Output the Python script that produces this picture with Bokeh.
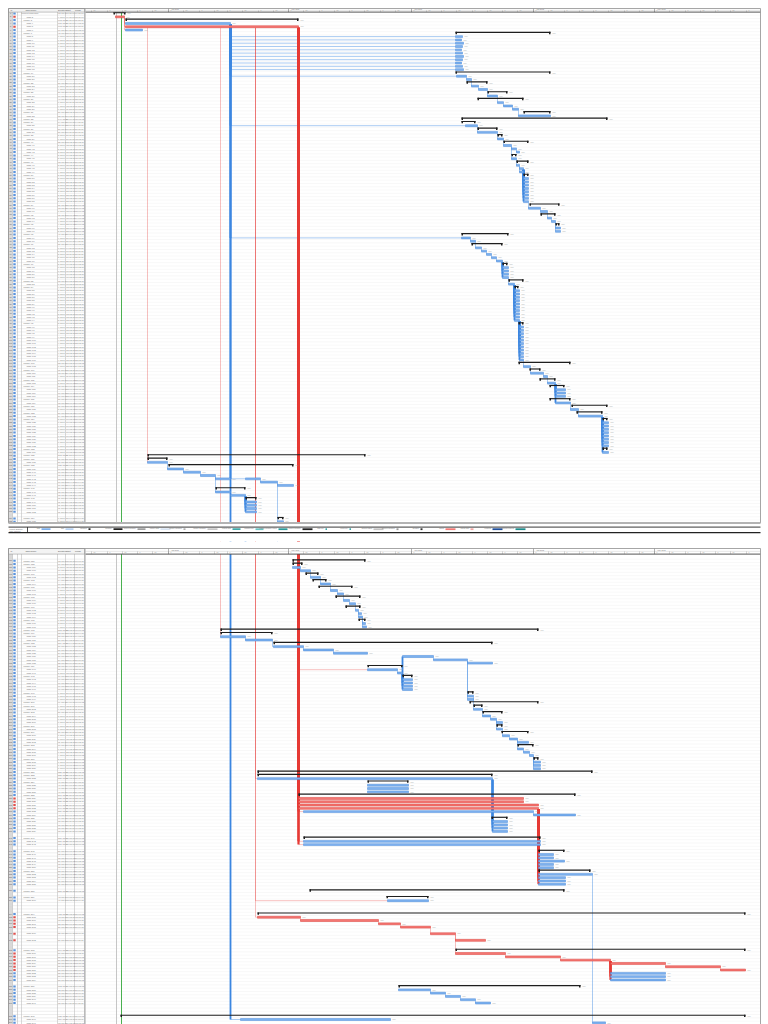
import datetime as dt
from collections import Counter
from bokeh.plotting import figure
from bokeh.layouts import column
from bokeh.models import Range1d, ColumnDataSource
from bokeh.embed import file_html
from bokeh.resources import INLINE
from bokeh.core.properties import value

# ---------------- data (days from project start, rows = task ids) ----------------
project_start = dt.date(2010, 10, 10)
project_start_line = 31
status_date_line = 36

p1_row = [0, 1, 2, 3, 4, 5, 6, 7, 8, 9,
          10, 11, 12, 13, 14, 15, 16, 17, 18, 19,
          20, 21, 22, 23, 24, 25, 26, 27, 28, 29,
          30, 31, 32, 33, 34, 35, 36, 37, 38, 39,
          40, 41, 42, 43, 44, 45, 46, 47, 48, 49,
          50, 51, 52, 53, 54, 55, 56, 57, 58, 59,
          60, 61, 62, 63, 64, 65, 66, 67, 68, 69,
          70, 71, 72, 73, 74, 75, 76, 77, 78, 79,
          80, 81, 82, 83, 84, 85, 86, 87, 88, 89,
          90, 91, 92, 93, 94, 95, 96, 97, 98, 99,
          100, 101, 102, 103, 104, 105, 106, 107, 108, 109,
          110, 111, 112, 113, 114, 115, 116, 117, 118, 119,
          120, 121, 122, 123, 124, 125, 126, 127, 128, 129,
          130, 131, 132, 133, 134, 135, 136, 137, 138, 139,
          140, 141, 141, 142, 143, 144, 145, 146, 147, 148,
          149, 150, 151, 153, 154]
p1_start = [28, 30, 40, 40, 40, 40, 370, 370, 370, 370,
            370, 370, 370, 370, 370, 370, 370, 370, 370, 371,
            381, 381, 386, 393, 402, 402, 392, 412, 418, 427,
            438, 433, 376, 376, 380, 392, 392, 412, 412, 418,
            418, 426, 431, 426, 426, 431, 431, 434, 434, 438,
            438, 438, 438, 438, 438, 438, 438, 438, 444, 443,
            455, 455, 462, 466, 470, 470, 470, 376, 376, 385,
            386, 390, 396, 401, 406, 411, 417, 417, 417, 417,
            417, 423, 423, 429, 429, 429, 429, 429, 429, 429,
            429, 429, 429, 429, 433, 434, 434, 434, 434, 434,
            434, 434, 434, 434, 434, 434, 433, 438, 444, 445,
            458, 454, 462, 464, 470, 470, 470, 464, 470, 486,
            485, 491, 493, 517, 517, 517, 517, 517, 517, 517,
            517, 517, 517, 517, 62, 62, 62, 83, 82, 98,
            115, 130, 160, 175, 192, 130, 130, 145, 160, 160,
            160, 160, 160, 192, 192]
p1_finish = [40, 39, 213, 145, 213, 57, 465, 377, 376, 378,
             377, 376, 377, 378, 377, 376, 377, 378, 465, 381,
             386, 402, 393, 402, 422, 412, 438, 418, 427, 433,
             465, 465, 522, 390, 392, 412, 412, 417, 418, 443,
             426, 431, 434, 431, 431, 443, 434, 438, 438, 443,
             443, 443, 443, 443, 443, 443, 443, 443, 474, 455,
             462, 470, 466, 470, 474, 475, 475, 423, 385, 390,
             417, 396, 401, 406, 411, 417, 422, 423, 423, 423,
             423, 438, 429, 433, 434, 434, 434, 434, 434, 434,
             434, 434, 434, 434, 438, 438, 438, 438, 438, 438,
             438, 438, 438, 438, 438, 438, 485, 445, 455, 458,
             462, 470, 470, 479, 480, 480, 480, 485, 485, 522,
             493, 517, 517, 522, 523, 523, 523, 523, 523, 523,
             523, 523, 522, 523, 280, 82, 82, 208, 98, 115,
             130, 145, 175, 192, 208, 160, 145, 160, 171, 171,
             171, 171, 171, 198, 198]
p1_kind = ["S", "C", "S", "T", "C", "T", "S", "T", "T", "T",
           "T", "T", "T", "T", "T", "T", "T", "T", "S", "T",
           "T", "S", "T", "T", "S", "T", "S", "T", "T", "T",
           "S", "T", "S", "S", "T", "S", "T", "S", "T", "S",
           "T", "T", "T", "S", "T", "S", "T", "T", "T", "S",
           "T", "T", "T", "T", "T", "T", "T", "T", "S", "T",
           "T", "S", "T", "T", "S", "T", "T", "S", "T", "T",
           "S", "T", "T", "T", "T", "T", "S", "T", "T", "T",
           "T", "S", "T", "S", "T", "T", "T", "T", "T", "T",
           "T", "T", "T", "T", "S", "T", "T", "T", "T", "T",
           "T", "T", "T", "T", "T", "T", "S", "T", "S", "T",
           "T", "S", "T", "S", "T", "T", "T", "S", "T", "S",
           "T", "S", "T", "S", "T", "T", "T", "T", "T", "T",
           "T", "T", "S", "T", "S", "S", "T", "S", "T", "T",
           "T", "T", "T", "T", "T", "S", "T", "T", "S", "T",
           "T", "T", "T", "S", "T"]
p1_pred = [-1, -1, -1, 1, 1, 1, -1, 3, 3, 3,
           3, 3, 3, 3, 3, 3, 3, 3, -1, 3,
           19, -1, 20, 22, -1, 23, -1, 25, 27, 28,
           -1, 29, -1, -1, 3, -1, 34, -1, 36, -1,
           38, 40, 41, -1, 40, -1, 44, 46, 46, -1,
           47, 47, 47, 47, 47, 47, 47, 47, -1, 57,
           59, -1, 60, 62, -1, 63, 63, -1, 3, 68,
           -1, 69, 71, 72, 73, 74, -1, 75, 75, 75,
           75, -1, 80, -1, 82, 82, 82, 82, 82, 82,
           82, 82, 82, 82, -1, 93, 93, 93, 93, 93,
           93, 93, 93, 93, 93, 93, -1, 105, -1, 107,
           109, -1, 110, -1, 112, 112, 112, -1, 112, -1,
           118, -1, 120, -1, 122, 122, 122, 122, 122, 122,
           122, 122, -1, 122, -1, -1, 4, -1, 136, 138,
           139, 140, 3, 141, 142, -1, 140, 145, -1, 146,
           146, 146, 146, -1, 142]

p2_row = [156, 157, 158, 159, 160, 161, 162, 163, 164, 165,
          166, 167, 168, 169, 170, 171, 172, 173, 174, 175,
          176, 177, 178, 179, 180, 181, 182, 183, 184, 185,
          186, 187, 188, 189, 190, 191, 192, 193, 194, 195,
          196, 197, 198, 199, 200, 201, 202, 203, 204, 205,
          206, 207, 208, 209, 210, 211, 212, 213, 214, 215,
          216, 217, 218, 219, 220, 221, 222, 223, 224, 225,
          226, 227, 228, 229, 230, 231, 232, 233, 234, 235,
          236, 237, 238, 240, 241, 242, 244, 245, 246, 247,
          248, 249, 250, 251, 252, 253, 254, 256, 258, 259,
          263, 264, 265, 266, 267, 269, 271, 274, 275, 276,
          277, 278, 279, 280, 281, 282, 283, 285, 286, 287,
          288, 289, 290, 294, 295, 296]
p2_start = [207, 207, 207, 215, 220, 225, 227, 235, 233, 245,
            252, 250, 258, 264, 260, 270, 273, 273, 273, 277,
            277, 135, 135, 135, 160, 188, 188, 218, 248, 317,
            348, 382, 282, 282, 312, 317, 317, 317, 317, 317,
            382, 382, 382, 384, 388, 388, 397, 397, 405, 411,
            411, 411, 416, 417, 424, 432, 432, 432, 438, 444,
            448, 448, 448, 448, 172, 172, 172, 282, 282, 282,
            282, 213, 213, 213, 213, 213, 218, 448, 406, 407,
            407, 407, 407, 218, 218, 218, 453, 453, 453, 453,
            453, 453, 453, 453, 453, 453, 453, 224, 301, 302,
            172, 172, 215, 293, 315, 345, 370, 370, 370, 420,
            475, 525, 580, 635, 525, 525, 525, 313, 313, 345,
            360, 375, 390, 35, 155, 507]
p2_finish = [280, 217, 215, 225, 233, 235, 241, 245, 267, 252,
             258, 275, 264, 270, 275, 273, 276, 277, 280, 280,
             281, 453, 187, 160, 187, 407, 218, 248, 282, 348,
             382, 407, 317, 312, 317, 327, 327, 327, 327, 327,
             388, 388, 388, 453, 397, 397, 417, 405, 411, 417,
             417, 417, 443, 424, 432, 443, 448, 438, 444, 448,
             453, 455, 455, 455, 507, 407, 407, 323, 323, 323,
             323, 490, 438, 438, 453, 453, 448, 490, 422, 422,
             422, 422, 422, 455, 455, 455, 479, 468, 468, 479,
             468, 468, 505, 507, 480, 480, 480, 479, 343, 343,
             660, 215, 293, 315, 345, 370, 400, 660, 420, 475,
             525, 580, 635, 660, 580, 580, 580, 495, 345, 360,
             375, 390, 405, 660, 305, 520]
p2_kind = ["S", "S", "T", "T", "S", "T", "S", "T", "S", "T",
           "T", "S", "T", "T", "S", "T", "T", "T", "S", "T",
           "T", "S", "S", "T", "T", "S", "T", "T", "T", "T",
           "T", "T", "S", "T", "T", "S", "T", "T", "T", "T",
           "S", "T", "T", "S", "S", "T", "S", "T", "T", "T",
           "S", "T", "S", "T", "T", "T", "S", "T", "T", "T",
           "S", "T", "T", "T", "S", "S", "T", "S", "T", "T",
           "T", "S", "C", "C", "C", "C", "T", "T", "S", "T",
           "T", "T", "T", "S", "T", "T", "S", "T", "T", "T",
           "T", "T", "S", "T", "T", "T", "T", "S", "S", "T",
           "S", "C", "C", "C", "C", "C", "C", "S", "C", "C",
           "C", "C", "C", "C", "T", "T", "T", "S", "T", "T",
           "T", "T", "T", "S", "T", "T"]
p2_pred = [-1, -1, -1, 158, -1, 159, -1, 161, -1, 163,
           165, -1, 166, 168, -1, 169, 171, 171, -1, 173,
           173, -1, -1, 4, 179, -1, 180, 182, 183, 190,
           185, 186, -1, 4, 189, -1, 190, 190, 190, 190,
           -1, 186, 186, -1, -1, 197, -1, 201, 203, 204,
           -1, 204, -1, 207, 209, 210, -1, 210, 213, 214,
           -1, 215, 215, 215, -1, -1, 4, -1, -1, -1,
           -1, -1, 4, 4, 4, 4, 4, 232, -1, 222,
           222, 222, 222, -1, 4, 4, -1, 231, 231, 231,
           231, 231, -1, 231, 231, 231, 231, -1, -1, 4,
           -1, 4, 264, 265, 266, 267, 269, -1, 269, 275,
           276, 277, 278, 279, 277, 277, 277, -1, -1, 286,
           287, 288, 289, -1, 3, 251]

# links that leave the predecessor at another date than its finish
link_override_row = [136, 142, 179, 222, 259, 264]
link_override_day = [62, 175, 135, 170, 170, 170]

legend_labels = ["Task", "Split", "Milestone", "Summary", "Project Summary", "Inactive Task",
                 "Inactive Milestone", "Inactive Summary", "Manual Task", "Duration-only",
                 "Manual Summary Rollup", "Manual Summary", "Start-only", "Finish-only",
                 "External Tasks", "External Milestone", "Deadline", "Critical",
                 "Critical Split", "Progress", "Manual Progress"]
legend_colors = ["#7cb0ee", "#b9d3f3", "#333333", "#222222", "#a0a0a0", "#d9e5f3",
                 "#b0b0b0", "#c8c8c8", "#3fa9a9", "#6cc4c4", "#2b9b9b", "#222222",
                 "#3fa9a9", "#3fa9a9", "#c4c4c4", "#9a9a9a", "#333333", "#f47a76",
                 "#f4a9a6", "#1f4f9c", "#1e8c8c"]

# ---------------- derived ----------------
rows = p1_row + p2_row
starts = p1_start + p2_start
fins = p1_finish + p2_finish
kinds = p1_kind + p2_kind
preds = p1_pred + p2_pred
n = len(rows)
override = dict(zip(link_override_row, link_override_day))

first_idx = {}
for i, r in enumerate(rows):
    first_idx.setdefault(r, i)

links = []
succ_count = Counter()
for i, pr in enumerate(preds):
    if pr < 0:
        continue
    j = first_idx[pr]
    lx = override.get(rows[i], fins[j])
    links.append((pr, lx, rows[i], starts[i], kinds[j]))
    succ_count[(pr, lx)] += 1

FONT = value("Liberation Sans")
BLUE_FILL, BLUE_LINE = "#80b3ef", "#4688da"
RED_FILL, RED_LINE = "#f47a76", "#dc3a35"
LINK_BLUE, LINK_RED = "#5294e4", "#e63a35"
GANTT_END = 675


def yr1(y):
    return (y - 13.0) / 3.3


def yr2(y):
    return 155 + (y - 557.0) / 3.3


def day_label(d):
    return (project_start + dt.timedelta(days=int(d))).strftime("%d/%m/%y")


def link_sources():
    segs = {"blue_thin": [], "blue_thick": [], "red_thin": [], "red_thick": []}
    for pr, lx, r, s, pk in links:
        col = "red" if pk == "C" else "blue"
        w = "thick" if succ_count[(pr, lx)] >= 4 else "thin"
        segs[col + "_" + w].append((lx, pr + 0.32, lx, r))
        if s > lx:
            segs[col + "_thin"].append((lx, r, s, r))
    out = {}
    for k, v in segs.items():
        out[k] = ColumnDataSource(dict(x0=[a[0] for a in v], y0=[a[1] for a in v],
                                       x1=[a[2] for a in v], y1=[a[3] for a in v]))
    return out


LINKS = link_sources()


def bar_source(k, r0, r1):
    idx = [i for i in range(n) if kinds[i] == k and r0 <= rows[i] <= r1]
    return ColumnDataSource(dict(
        l=[starts[i] for i in idx], r=[fins[i] for i in idx],
        t=[rows[i] - 0.28 for i in idx], b=[rows[i] + 0.3 for i in idx],
        st=[rows[i] - 0.45 for i in idx], sb=[rows[i] - 0.1 for i in idx],
        cb=[rows[i] + 0.28 for i in idx],
        lc=[starts[i] + 1.5 for i in idx], rc=[fins[i] - 1.5 for i in idx],
        tx=[fins[i] + 2 for i in idx], ty=[rows[i] for i in idx],
        lab=["0%" for i in idx]))


def table_source(r0, r1):
    tab = dict(y=[], name=[], nx=[], dur=[], sd=[], fd=[], idt=[], icol=[])
    for r, i in sorted(first_idx.items()):
        if not (r0 <= r <= r1):
            continue
        k = kinds[i]
        tab["y"].append(r)
        tab["idt"].append(str(r + 1))
        if r == 0:
            tab["name"].append("Project schedule")
            tab["nx"].append(-64)
        elif k == "S":
            tab["name"].append("Phase %d" % (r + 1))
            tab["nx"].append(-62)
        else:
            tab["name"].append("Task %d" % (r + 1))
            tab["nx"].append(-59)
        tab["dur"].append("%d days" % (fins[i] - starts[i]))
        tab["sd"].append(day_label(starts[i]))
        tab["fd"].append(day_label(fins[i]))
        tab["icol"].append("#e0504c" if k == "C" else "#5b93dc")
    tab["it"] = [y - 0.3 for y in tab["y"]]
    tab["ib"] = [y + 0.3 for y in tab["y"]]
    return ColumnDataSource(tab)


minor_days, major_days, major_lab, minor_lab = [], [], [], []
for d in range(0, GANTT_END + 1):
    day = project_start + dt.timedelta(days=d)
    if day.day in (1, 16):
        minor_days.append(d)
        minor_lab.append(str(day.day))
    if day.day == 1 and day.month in (1, 5, 9):
        major_days.append(d)
        major_lab.append(day.strftime("%b %Y"))

COLS = [-77, -73, -68, -64, -28, -20, -11, -1]


def make_page(h, y_top, y_bot, frame_top, head_bot, body_bot, r0, r1, legend):
    p = figure(width=768, height=h, x_range=Range1d(-85, 683), y_range=Range1d(y_bot, y_top),
               output_backend="svg", toolbar_location=None, min_border=0,
               x_axis_location=None, y_axis_location=None)
    p.xgrid.visible = False
    p.ygrid.visible = False
    p.outline_line_color = None
    p.background_fill_color = "white"
    p.border_fill_color = "white"

    T_SRC, C_SRC, S_SRC = (bar_source("T", r0, r1), bar_source("C", r0, r1),
                           bar_source("S", r0, r1))
    TAB = table_source(r0, r1)

    rr = list(range(r0, r1 + 1))
    p.segment(x0=[0] * len(rr), x1=[GANTT_END] * len(rr), y0=[r + 0.5 for r in rr],
              y1=[r + 0.5 for r in rr], line_color="#f1f1f1", line_width=0.5)
    p.segment(x0=[project_start_line], x1=[project_start_line], y0=[head_bot], y1=[body_bot],
              line_color="#b8b8b8", line_width=0.8)
    p.segment(x0=[status_date_line], x1=[status_date_line], y0=[head_bot], y1=[body_bot],
              line_color="#49b04f", line_width=1)
    p.segment("x0", "y0", "x1", "y1", source=LINKS["blue_thin"], line_color=LINK_BLUE,
              line_width=0.7, line_alpha=0.7)
    p.segment("x0", "y0", "x1", "y1", source=LINKS["red_thin"], line_color=LINK_RED,
              line_width=0.8, line_alpha=0.4)
    p.segment("x0", "y0", "x1", "y1", source=LINKS["blue_thick"], line_color="#3b86e0",
              line_width=1.8)
    p.segment("x0", "y0", "x1", "y1", source=LINKS["red_thick"], line_color=LINK_RED,
              line_width=2.2)
    p.quad(left="l", right="r", top="t", bottom="b", source=T_SRC, fill_color=BLUE_FILL,
           line_color=BLUE_LINE, line_width=0.5)
    p.quad(left="l", right="r", top="t", bottom="b", source=C_SRC, fill_color=RED_FILL,
           line_color=RED_LINE, line_width=0.5)
    p.quad(left="l", right="r", top="st", bottom="sb", source=S_SRC, fill_color="#1e1e1e",
           line_color=None)
    p.quad(left="l", right="lc", top="st", bottom="cb", source=S_SRC, fill_color="#1e1e1e",
           line_color=None)
    p.quad(left="rc", right="r", top="st", bottom="cb", source=S_SRC, fill_color="#1e1e1e",
           line_color=None)
    for src in (T_SRC, C_SRC, S_SRC):
        p.text(x="tx", y="ty", text="lab", source=src, text_font=FONT,
               text_font_size=value("2.2px"), text_color="#9a9a9a", text_baseline="middle")

    # table
    p.quad(left=[-85], right=[-0.5], top=[y_top], bottom=[y_bot], fill_color="white",
           line_color=None)
    p.quad(left=[COLS[0]], right=[COLS[1]], top=[head_bot], bottom=[body_bot],
           fill_color="#d9d9d9", line_color=None)
    p.segment(x0=[COLS[0]] * len(rr), x1=[-1] * len(rr), y0=[r + 0.5 for r in rr],
              y1=[r + 0.5 for r in rr], line_color="#dcdcdc", line_width=0.5)
    p.segment(x0=COLS, x1=COLS, y0=[frame_top] * len(COLS), y1=[body_bot] * len(COLS),
              line_color="#bdbdbd", line_width=0.6)
    p.quad(left=-72.2, right=-69.8, top="it", bottom="ib",
           source=TAB, fill_color="icol", line_color=None)
    tf = value("2.3px")
    p.text(x=-75, y="y", text="idt", source=TAB, text_font=FONT, text_font_size=value("2px"),
           text_color="#666", text_baseline="middle", text_align="center")
    p.text(x="nx", y="y", text="name", source=TAB, text_font=FONT, text_font_size=tf,
           text_color="#777", text_baseline="middle")
    p.text(x=-27.5, y="y", text="dur", source=TAB, text_font=FONT, text_font_size=tf,
           text_color="#888", text_baseline="middle")
    p.text(x=-19.5, y="y", text="sd", source=TAB, text_font=FONT, text_font_size=tf,
           text_color="#888", text_baseline="middle")
    p.text(x=-10.5, y="y", text="fd", source=TAB, text_font=FONT, text_font_size=tf,
           text_color="#888", text_baseline="middle")

    # cover anything drawn above the header (links from rows of the other page)
    p.quad(left=[-85], right=[683], top=[y_top - 2], bottom=[head_bot], fill_color="white",
           line_color=None)
    if legend:
        p.quad(left=[-85], right=[683], top=[yr1(523.5)], bottom=[y_bot + 2],
               fill_color="white", line_color=None)

    # headers
    mid = (frame_top + head_bot) / 2
    p.quad(left=[COLS[0]], right=[-1], top=[frame_top], bottom=[head_bot],
           fill_color="#f3f3f3", line_color="#9a9a9a", line_width=0.6)
    p.text(x=[-75, -60, -27.5, -19.5, -10.5],
           y=[mid] * 5,
           text=["Id", "Task Name", "Duration", "Start", "Finish"], text_font=FONT,
           text_font_size=value("2.2px"), text_color="#555", text_baseline="middle")
    p.segment(x0=[0], x1=[GANTT_END], y0=[mid], y1=[mid], line_color="#c8c8c8", line_width=0.5)
    p.segment(x0=minor_days, x1=minor_days, y0=[mid] * len(minor_days),
              y1=[head_bot] * len(minor_days), line_color="#b0b0b0", line_width=0.5)
    p.segment(x0=major_days, x1=major_days, y0=[frame_top] * len(major_days),
              y1=[head_bot] * len(major_days), line_color="#909090", line_width=0.7)
    p.text(x=[d + 3 for d in major_days], y=[(frame_top + mid) / 2] * len(major_days),
           text=major_lab, text_font=FONT, text_font_size=value("1.8px"), text_color="#777",
           text_baseline="middle")
    p.text(x=[d + 2 for d in minor_days], y=[(mid + head_bot) / 2] * len(minor_days),
           text=minor_lab, text_font=FONT, text_font_size=value("1.6px"), text_color="#888",
           text_baseline="middle")
    p.segment(x0=[0], x1=[GANTT_END], y0=[head_bot], y1=[head_bot], line_color="#555555",
              line_width=1)
    p.segment(x0=[COLS[0], GANTT_END, -0.5], x1=[COLS[0], GANTT_END, -0.5],
              y0=[frame_top] * 3, y1=[body_bot] * 3, line_color="#8f8f8f", line_width=0.8)
    p.segment(x0=[COLS[0]], x1=[GANTT_END], y0=[frame_top], y1=[frame_top],
              line_color="#8f8f8f", line_width=0.8)

    if legend:
        p.segment(x0=[COLS[0]], x1=[GANTT_END], y0=[yr1(522.5)], y1=[yr1(522.5)],
                  line_color="#b3b3b3", line_width=2)
        p.segment(x0=[COLS[0]], x1=[GANTT_END], y0=[yr1(526.6)], y1=[yr1(526.6)],
                  line_color="#222222", line_width=0.9)
        p.segment(x0=[COLS[0]], x1=[GANTT_END], y0=[yr1(532.2)], y1=[yr1(532.2)],
                  line_color="#222222", line_width=1.3)
        p.segment(x0=[-58], x1=[-58], y0=[yr1(526.6)], y1=[yr1(532.2)],
                  line_color="#222222", line_width=0.8)
        p.text(x=[-76, -76], y=[yr1(528.2), yr1(530.4)],
               text=["Project: Schedule", "Date: " + day_label(status_date_line)],
               text_font=FONT, text_font_size=value("1.7px"), text_color="#666",
               text_baseline="middle")
        lx = [-44, -20, 3, 28, 52, 75, 98, 122, 147, 170, 193, 217, 240, 264, 288, 311,
              335, 360, 385, 407, 430]
        lw = [9, 8, 2, 9, 8, 10, 2, 10, 8, 8, 9, 10, 1.5, 1.5, 10, 2, 2, 10, 3, 10, 10]
        p.quad(left=lx, right=[a + b for a, b in zip(lx, lw)], top=[yr1(527.8)] * len(lx),
               bottom=[yr1(529.6)] * len(lx), fill_color=legend_colors, line_color=None)
        p.text(x=[a - 1.5 for a in lx], y=[yr1(528.7)] * len(lx), text=legend_labels,
               text_font=FONT, text_font_size=value("1.6px"), text_color="#777",
               text_baseline="middle", text_align="right")
    return p


page1 = make_page(541, yr1(0), yr1(541), yr1(8), yr1(11.6), yr1(522.5), 0, 154, True)
page2 = make_page(483, yr2(541), yr2(1024), yr2(548), yr2(553.6), yr2(1030), 155, 296, False)

layout = column(page1, page2, spacing=0)
open("out.html", "w").write(file_html(layout, INLINE))
